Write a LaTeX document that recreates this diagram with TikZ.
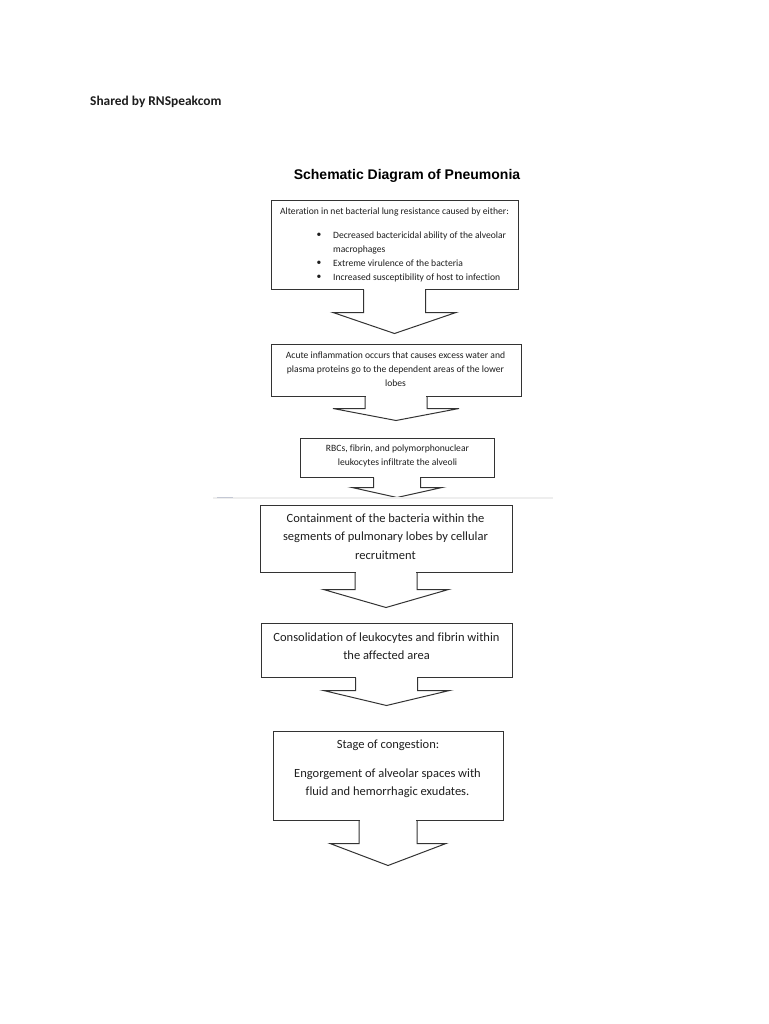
\documentclass[tikz,border=0pt]{standalone}
\usepackage{fontspec}
\setmainfont{Carlito}[Ligatures={NoCommon}]
\newfontfamily\titlefont{Liberation Sans}
\definecolor{ink}{HTML}{1E1E1E}
\definecolor{edge}{HTML}{333333}
\definecolor{sepline}{HTML}{EEEEEE}
\definecolor{sepdark}{HTML}{C4C8D4}
\tikzset{
  box/.style={draw=edge, line width=1pt, inner sep=0pt},
  txt/.style={inner sep=0pt, text=ink, align=center, font=\fontsize{9.6}{14}\selectfont},
  bigtxt/.style={inner sep=0pt, text=ink, align=center, font=\fontsize{12.5}{18.5}\selectfont},
  arrowline/.style={draw=edge, line width=1pt, line join=miter},
}
% block arrow below a box: #1 node, #2 shaft half width, #3 shaft length, #4 head half width, #5 head length
\newcommand\blockarrow[5]{%
  \begin{scope}[shift={(#1.south)}]
    \fill[white] (-#2+0.6,-1.2) rectangle (#2-0.6,#3);
    \draw[arrowline] (-#2,0) -- (-#2,#3) -- (-#4,#3) -- (0,#3+#5) -- (#4,#3) -- (#2,#3) -- (#2,0);
  \end{scope}}
\begin{document}
\begin{tikzpicture}[x=1pt,y=-1pt]
\useasboundingbox[fill=white] (0,0) rectangle (768,1024);

% header
\node[inner sep=0pt, anchor=west, text=ink, font=\fontsize{13.4}{16}\selectfont\bfseries] (shared) at (90,102) {Shared by RNSpeakcom};
\node[inner sep=0pt, text=black, font=\titlefont\bfseries\fontsize{14}{17}\selectfont] (title) at (407,176) {Schematic Diagram of Pneumonia};

% box 1
\node[box, minimum width=247pt, minimum height=88pt] (b1) at (394.5,245) {};
\node[txt] (t1) at (394.5,212) {Alteration in net bacterial lung resistance caused by either:};
\node[txt, align=left, anchor=west] (l1) at (333,256.5) {Decreased bactericidal ability of the alveolar\\macrophages\\Extreme virulence of the bacteria\\Increased susceptibility of host to infection};
\node[txt] (d1) at (319,235) {\textbullet};
\node[txt] (d2) at (319,263.3) {\textbullet};
\node[txt] (d3) at (319,277.6) {\textbullet};
\blockarrow{b1}{31}{23}{61.5}{21}

% box 2
\node[box, minimum width=250pt, minimum height=52pt] (b2) at (396,370) {};
\node[txt] (t2) at (395.5,369) {Acute inflammation occurs that causes excess water and\\plasma proteins go to the dependent areas of the lower\\lobes};
\blockarrow{b2}{31}{12}{63}{12}

% box 3
\node[box, minimum width=194pt, minimum height=39pt] (b3) at (397,457.5) {};
\node[txt] (t3) at (397.5,456) {RBCs, fibrin, and polymorphonuclear\\leukocytes infiltrate the alveoli};
\blockarrow{b3}{23.5}{10}{45}{10}

% separator
\draw[sepline, line width=1.2pt] (213,498) -- (553,498);
\draw[sepdark, line width=1.2pt] (217,497.6) -- (233,497.6);

% box 4
\node[box, minimum width=252pt, minimum height=67pt] (b4) at (386,538.5) {};
\node[bigtxt] (t4) at (385.5,536.5) {Containment of the bacteria within the\\segments of pulmonary lobes by cellular\\recruitment};
\blockarrow{b4}{31}{17}{62.5}{18}

% box 5
\node[box, minimum width=251pt, minimum height=54pt] (b5) at (386.5,650) {};
\node[bigtxt] (t5) at (386.5,646) {Consolidation of leukocytes and fibrin within\\the affected area};
\blockarrow{b5}{31}{13}{63}{15}

% box 6
\node[box, minimum width=230pt, minimum height=89pt] (b6) at (388,775.5) {};
\node[bigtxt] (t6a) at (388,745) {Stage of congestion:};
\node[bigtxt] (t6b) at (387.5,783) {Engorgement of alveolar spaces with\\fluid and hemorrhagic exudates.};
\blockarrow{b6}{29}{23}{58}{22}
\end{tikzpicture}
\end{document}
